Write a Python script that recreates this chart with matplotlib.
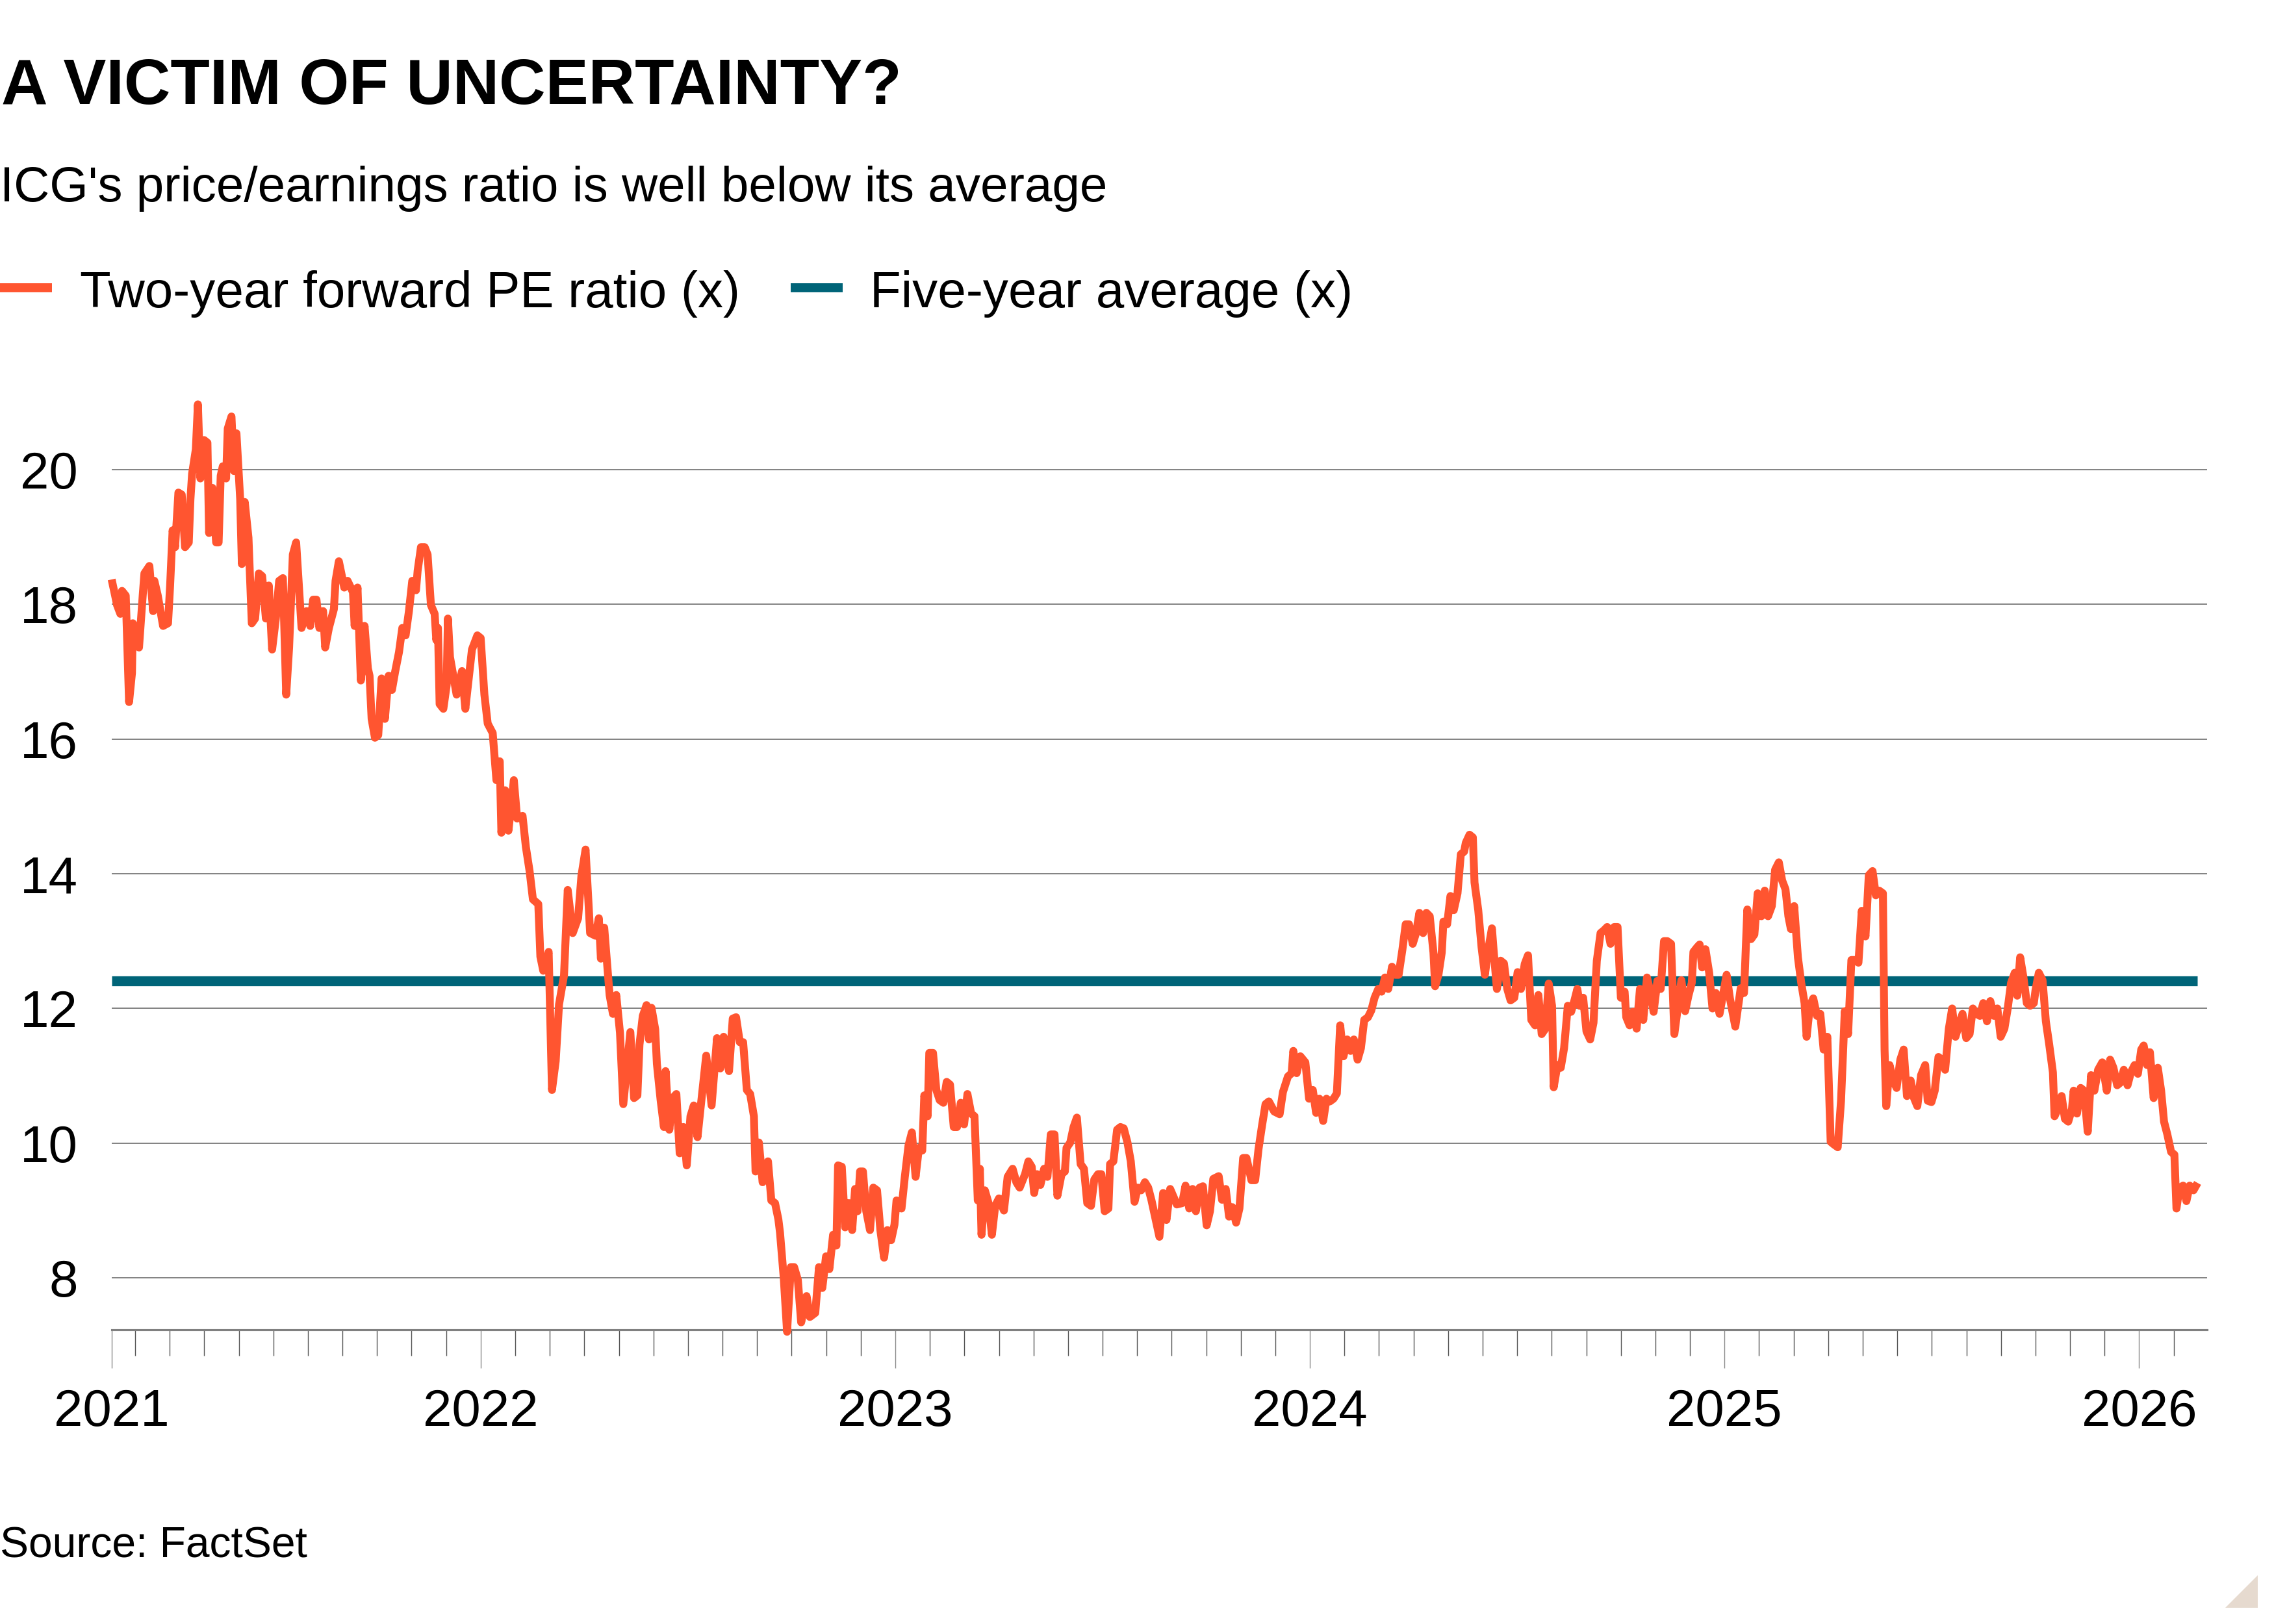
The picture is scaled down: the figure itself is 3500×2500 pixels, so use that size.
import matplotlib
matplotlib.use("Agg")
import matplotlib.pyplot as plt
from matplotlib.lines import Line2D
from matplotlib.patches import Polygon

plt.rcParams['font.family'] = ['Liberation Sans', 'DejaVu Sans']

# ---------------- data (decimal year, two-year forward PE) ----------------
years = [
    2021.110, 2021.118, 2021.123, 2021.131, 2021.135, 2021.144, 2021.152, 2021.159, 2021.161, 2021.168,
    2021.176, 2021.185, 2021.189, 2021.201, 2021.210, 2021.213, 2021.221, 2021.234, 2021.246, 2021.251,
    2021.257, 2021.263, 2021.271, 2021.279, 2021.287, 2021.296, 2021.300, 2021.304, 2021.313, 2021.318,
    2021.324, 2021.333, 2021.341, 2021.345, 2021.353, 2021.362, 2021.368, 2021.373, 2021.378, 2021.386,
    2021.390, 2021.399, 2021.405, 2021.411, 2021.420, 2021.424, 2021.431, 2021.440, 2021.448, 2021.456,
    2021.465, 2021.473, 2021.482, 2021.489, 2021.497, 2021.506, 2021.514, 2021.523, 2021.531, 2021.538,
    2021.547, 2021.555, 2021.568, 2021.580, 2021.589, 2021.596, 2021.604, 2021.611, 2021.620, 2021.625,
    2021.634, 2021.646, 2021.650, 2021.658, 2021.671, 2021.679, 2021.692, 2021.696, 2021.703, 2021.711,
    2021.720, 2021.728, 2021.732, 2021.737, 2021.745, 2021.753, 2021.761, 2021.769, 2021.778, 2021.786,
    2021.794, 2021.803, 2021.811, 2021.819, 2021.827, 2021.835, 2021.844, 2021.848, 2021.856, 2021.865,
    2021.872, 2021.880, 2021.889, 2021.893, 2021.897, 2021.901, 2021.910, 2021.918, 2021.921, 2021.926,
    2021.934, 2021.942, 2021.955, 2021.963, 2021.972, 2021.979, 2021.992,
    2022.000, 2022.009, 2022.017, 2022.029, 2022.038, 2022.046, 2022.050, 2022.059, 2022.067, 2022.080,
    2022.088, 2022.101, 2022.109, 2022.118, 2022.126, 2022.139, 2022.144, 2022.151, 2022.164, 2022.172,
    2022.181, 2022.189, 2022.201, 2022.210, 2022.222, 2022.235, 2022.243, 2022.253, 2022.264, 2022.277,
    2022.285, 2022.290, 2022.298, 2022.311, 2022.319, 2022.327, 2022.336, 2022.344,
    2022.361, 2022.370, 2022.378, 2022.383, 2022.391, 2022.400, 2022.406, 2022.412, 2022.421, 2022.425,
    2022.434, 2022.442, 2022.446, 2022.455, 2022.463, 2022.472, 2022.480, 2022.489, 2022.497, 2022.506,
    2022.514, 2022.523, 2022.531, 2022.544, 2022.557, 2022.570, 2022.578, 2022.586, 2022.599, 2022.608,
    2022.616, 2022.625, 2022.633, 2022.642, 2022.650, 2022.659, 2022.663, 2022.671, 2022.680, 2022.693,
    2022.701, 2022.710, 2022.718, 2022.722, 2022.731, 2022.739, 2022.748, 2022.756, 2022.765, 2022.773,
    2022.786, 2022.794, 2022.807, 2022.816, 2022.824, 2022.833, 2022.841, 2022.850, 2022.858, 2022.862,
    2022.871, 2022.879, 2022.888, 2022.896, 2022.903, 2022.909, 2022.915, 2022.922, 2022.930, 2022.939,
    2022.947, 2022.956, 2022.964, 2022.973, 2022.981, 2022.990, 2022.998,
    2023.003, 2023.015, 2023.023, 2023.032, 2023.040, 2023.049, 2023.057, 2023.065, 2023.070, 2023.078,
    2023.082, 2023.091, 2023.099, 2023.107, 2023.116, 2023.124, 2023.132, 2023.141, 2023.149, 2023.158,
    2023.166, 2023.174, 2023.183, 2023.191, 2023.199, 2023.204, 2023.208, 2023.216, 2023.225, 2023.233,
    2023.241, 2023.250, 2023.262, 2023.271, 2023.283, 2023.292, 2023.300, 2023.313, 2023.321, 2023.329,
    2023.335, 2023.342, 2023.350, 2023.359, 2023.367, 2023.375, 2023.384, 2023.391, 2023.401, 2023.409,
    2023.413, 2023.422, 2023.430, 2023.438, 2023.447, 2023.455, 2023.463, 2023.472, 2023.480, 2023.489,
    2023.497, 2023.505, 2023.514, 2023.518, 2023.526, 2023.535, 2023.543, 2023.551, 2023.560, 2023.568,
    2023.577, 2023.585, 2023.593, 2023.602, 2023.610, 2023.618,
    2023.637, 2023.646, 2023.654, 2023.663, 2023.679, 2023.692, 2023.700, 2023.709, 2023.717, 2023.725,
    2023.734, 2023.742, 2023.751, 2023.759, 2023.767, 2023.780, 2023.788, 2023.797, 2023.805, 2023.813,
    2023.822, 2023.830, 2023.839, 2023.847, 2023.859, 2023.868, 2023.876, 2023.885, 2023.893, 2023.901,
    2023.914, 2023.927, 2023.935, 2023.947, 2023.956, 2023.960, 2023.968, 2023.977, 2023.989, 2023.998,
    2024.007, 2024.015, 2024.023, 2024.032, 2024.040, 2024.048, 2024.057, 2024.065, 2024.073, 2024.081,
    2024.090, 2024.098, 2024.106, 2024.115, 2024.123, 2024.131, 2024.140, 2024.148, 2024.156, 2024.165,
    2024.173, 2024.181, 2024.189, 2024.198, 2024.206, 2024.214, 2024.223, 2024.231, 2024.239, 2024.248,
    2024.256, 2024.264, 2024.273, 2024.281, 2024.289, 2024.298, 2024.302, 2024.310, 2024.318, 2024.322,
    2024.331, 2024.339, 2024.347, 2024.356, 2024.364, 2024.372, 2024.376, 2024.385, 2024.393, 2024.397,
    2024.406, 2024.414, 2024.422, 2024.430, 2024.439, 2024.443, 2024.451, 2024.460, 2024.468, 2024.476,
    2024.484, 2024.493, 2024.501, 2024.509, 2024.518, 2024.526, 2024.534, 2024.543, 2024.551, 2024.559,
    2024.568, 2024.576, 2024.584, 2024.588, 2024.597, 2024.605, 2024.613, 2024.622, 2024.630, 2024.638,
    2024.645, 2024.651, 2024.659, 2024.667, 2024.676, 2024.684, 2024.692, 2024.701, 2024.709, 2024.717,
    2024.725, 2024.734, 2024.742, 2024.750, 2024.759, 2024.763, 2024.771, 2024.779, 2024.788, 2024.796,
    2024.804, 2024.813, 2024.821, 2024.829, 2024.838, 2024.846, 2024.854, 2024.862, 2024.871, 2024.879,
    2024.896, 2024.905, 2024.913, 2024.921, 2024.925, 2024.934, 2024.940, 2024.946, 2024.954, 2024.963,
    2024.971, 2024.979, 2024.988, 2024.996,
    2025.005, 2025.013, 2025.026, 2025.039, 2025.047, 2025.055, 2025.064, 2025.072, 2025.080, 2025.089,
    2025.097, 2025.105, 2025.114, 2025.122, 2025.131, 2025.139, 2025.147, 2025.154, 2025.160, 2025.168,
    2025.177, 2025.185, 2025.193, 2025.198, 2025.206, 2025.214, 2025.223, 2025.231, 2025.239, 2025.248,
    2025.256, 2025.264, 2025.273, 2025.281, 2025.290, 2025.298, 2025.306, 2025.315, 2025.323, 2025.331,
    2025.340, 2025.348, 2025.357, 2025.365, 2025.373, 2025.382, 2025.386, 2025.390, 2025.398, 2025.407,
    2025.415, 2025.424, 2025.432, 2025.440, 2025.449, 2025.457, 2025.465, 2025.474, 2025.484, 2025.490,
    2025.499, 2025.507, 2025.516, 2025.524, 2025.532, 2025.541, 2025.549, 2025.557, 2025.566, 2025.574,
    2025.583, 2025.591, 2025.599, 2025.608, 2025.616, 2025.624, 2025.633, 2025.641, 2025.650, 2025.658,
    2025.666, 2025.675, 2025.683, 2025.691, 2025.700, 2025.706, 2025.713, 2025.721, 2025.729, 2025.737,
    2025.746, 2025.750, 2025.758, 2025.767, 2025.775, 2025.783, 2025.792, 2025.796, 2025.804, 2025.813,
    2025.821, 2025.829, 2025.838, 2025.842, 2025.850, 2025.859, 2025.867, 2025.876, 2025.884, 2025.892,
    2025.901, 2025.911, 2025.922, 2025.930, 2025.938, 2025.947, 2025.955, 2025.963, 2025.972, 2025.980,
    2025.989, 2025.997,
    2026.005, 2026.011, 2026.019, 2026.026, 2026.035, 2026.045, 2026.053, 2026.060, 2026.068, 2026.077,
    2026.085, 2026.090, 2026.097, 2026.106, 2026.114, 2026.122, 2026.131, 2026.141,
]

pe_ratio = [
    18.37, 18.14, 17.99, 17.86, 18.20, 18.13, 16.55, 16.98, 17.72, 17.65,
    17.36, 18.14, 18.46, 18.57, 17.90, 18.35, 18.14, 17.68, 17.72, 18.28,
    19.10, 18.85, 19.66, 19.63, 18.85, 18.92, 19.56, 19.94, 20.30, 20.97,
    19.87, 20.44, 20.40, 19.06, 19.73, 18.92, 18.92, 19.91, 20.05, 19.87,
    20.61, 20.79, 19.98, 20.54, 19.56, 18.60, 19.52, 18.99, 17.72, 17.79,
    18.46, 18.42, 17.79, 18.28, 17.33, 17.79, 18.35, 18.39, 16.66, 17.36,
    18.74, 18.92, 17.65, 17.90, 17.68, 18.07, 18.07, 17.65, 17.90, 17.36,
    17.65, 17.93, 18.35, 18.64, 18.25, 18.35, 18.18, 17.68, 18.25, 16.87,
    17.68, 17.05, 16.94, 16.30, 16.02, 16.06, 16.90, 16.30, 16.94, 16.73,
    17.01, 17.29, 17.65, 17.54, 17.90, 18.35, 18.21, 18.50, 18.85, 18.85,
    18.74, 17.99, 17.86, 17.47, 17.65, 16.52, 16.45, 16.80, 17.79, 17.22,
    16.94, 16.66, 17.01, 16.45, 16.94, 17.33, 17.54,
    17.50, 16.66, 16.23, 16.09, 15.39, 15.67, 14.61, 15.24, 14.64, 15.39,
    14.82, 14.86, 14.40, 14.04, 13.62, 13.55, 12.77, 12.56, 12.84, 10.79,
    11.22, 12.06, 12.49, 13.76, 13.12, 13.34, 13.97, 14.36, 13.12, 13.08,
    13.34, 12.74, 13.20, 12.20, 11.92, 12.20, 11.64, 10.58,
    11.65, 10.67, 10.71, 11.46, 11.89, 12.05, 11.54, 12.01, 11.69, 11.18,
    10.64, 10.24, 11.07, 10.20, 10.67, 10.73, 9.85, 10.24, 9.67, 10.40,
    10.56, 10.09, 10.56, 11.30, 10.56, 11.56, 11.11, 11.58, 11.07, 11.85,
    11.87, 11.50, 11.50, 10.79, 10.73, 10.40, 9.58, 10.01, 9.42, 9.73,
    9.15, 9.11, 8.87, 8.67, 8.00, 7.20, 8.16, 8.16, 7.97, 7.34,
    7.73, 7.42, 7.48, 8.16, 7.85, 8.32, 8.13, 8.64, 8.48, 9.67,
    9.65, 8.75, 9.11, 8.71, 9.32, 8.99, 9.58, 9.58, 8.99, 8.71,
    9.34, 9.30, 8.71, 8.30, 8.71, 8.56, 8.79,
    9.15, 9.03, 9.50, 9.97, 10.16, 9.50, 9.93, 9.89, 10.71, 10.40,
    11.34, 11.34, 10.79, 10.64, 10.60, 10.91, 10.87, 10.24, 10.24, 10.60,
    10.28, 10.73, 10.44, 10.40, 9.15, 9.62, 8.64, 9.30, 9.11, 8.64,
    9.07, 9.18, 9.00, 9.50, 9.62, 9.42, 9.34, 9.54, 9.73, 9.65,
    9.26, 9.54, 9.38, 9.62, 9.50, 10.13, 10.13, 9.22, 9.54, 9.58,
    9.93, 10.01, 10.24, 10.38, 9.69, 9.62, 9.11, 9.07, 9.46, 9.54,
    9.54, 8.99, 9.03, 9.69, 9.73, 10.20, 10.24, 10.22, 10.01, 9.73,
    9.13, 9.34, 9.30, 9.42, 9.34, 9.15,
    8.61, 9.26, 8.86, 9.32, 9.09, 9.11, 9.37, 9.03, 9.32, 8.99,
    9.34, 9.36, 8.78, 8.99, 9.47, 9.51, 9.16, 9.32, 8.91, 9.05,
    8.82, 9.03, 9.78, 9.78, 9.45, 9.45, 9.91, 10.28, 10.58, 10.62,
    10.47, 10.43, 10.76, 10.99, 11.04, 11.37, 11.04, 11.29, 11.20, 10.66,
    10.79, 10.45, 10.66, 10.33, 10.66, 10.62, 10.66, 10.74, 11.75, 11.29,
    11.54, 11.37, 11.54, 11.24, 11.41, 11.83, 11.87, 11.97, 12.16, 12.29,
    12.25, 12.46, 12.29, 12.62, 12.50, 12.50, 12.87, 13.25, 13.25, 12.96,
    13.12, 13.42, 13.12, 13.42, 13.37, 12.83, 12.33, 12.50, 12.83, 13.29,
    13.25, 13.67, 13.46, 13.71, 14.29, 14.33, 14.46, 14.58, 14.54, 13.87,
    13.46, 12.91, 12.50, 12.87, 13.19, 12.87, 12.29, 12.71, 12.67, 12.29,
    12.12, 12.16, 12.54, 12.29, 12.66, 12.79, 11.83, 11.75, 12.20, 11.62,
    11.70, 12.37, 12.04, 10.83, 11.16, 11.12, 11.41, 12.04, 11.95, 12.12,
    12.29, 12.04, 12.16, 11.66, 11.54, 11.79, 12.71, 13.12, 13.16, 13.21,
    12.96, 13.21, 13.21, 12.16, 12.25, 11.87, 11.75, 11.95, 11.70, 12.29,
    11.83, 12.46, 12.25, 11.95, 12.41, 12.29, 13.00, 13.00, 12.96, 11.62,
    12.42, 11.96, 12.19, 12.38, 12.84, 12.91, 12.95, 12.61, 12.88, 12.53,
    12.00, 12.23, 11.92, 12.19,
    12.50, 12.15, 11.73, 12.30, 12.23, 13.47, 13.03, 13.10, 13.71, 13.37,
    13.75, 13.37, 13.52, 14.06, 14.17, 13.90, 13.77, 13.37, 13.18, 13.52,
    12.76, 12.38, 12.08, 11.58, 12.04, 12.15, 11.89, 11.92, 11.39, 11.58,
    10.02, 9.98, 9.94, 10.63, 11.96, 11.62, 12.72, 12.72, 12.68, 13.45,
    13.07, 13.98, 14.04, 13.68, 13.75, 13.71, 11.39, 10.55, 11.16, 10.93,
    10.82, 11.24, 11.39, 10.70, 10.93, 10.67, 10.55, 11.01, 11.16, 10.63,
    10.61, 10.78, 11.28, 11.24, 11.09, 11.70, 12.00, 11.58, 11.77, 11.92,
    11.56, 11.62, 12.00, 11.92, 11.89, 12.08, 11.81, 12.11, 11.89, 12.00,
    11.58, 11.70, 12.00, 12.38, 12.53, 12.19, 12.76, 12.46, 12.08, 12.04,
    12.08, 12.27, 12.53, 12.42, 11.81, 11.47, 11.05, 10.40, 10.51, 10.70,
    10.36, 10.32, 10.51, 10.78, 10.44, 10.82, 10.78, 10.17, 11.01, 10.78,
    11.09, 11.20, 10.78, 11.24, 11.12, 10.86, 10.90, 11.09, 10.86, 11.05,
    11.16, 11.03,
    11.39, 11.45, 11.16, 11.35, 10.67, 11.12, 10.78, 10.32, 10.13, 9.87,
    9.83, 9.03, 9.33, 9.37, 9.14, 9.37, 9.30, 9.41,
]

five_year_average = 12.41

y_ticks = [8, 10, 12, 14, 16, 18, 20]
y_tick_labels = ['8', '10', '12', '14', '16', '18', '20']
year_tick_pos = [2021.110, 2022, 2023, 2024, 2025, 2026]
year_tick_labels = ['2021', '2022', '2023', '2024', '2025', '2026']
month_ticks = [y + m / 12 for y in range(2021, 2027) for m in range(1, 12)
               if 2021.13 < y + m / 12 < 2026.16]

title = 'A VICTIM OF UNCERTAINTY?'
subtitle = "ICG's price/earnings ratio is well below its average"
legend_labels = ['Two-year forward PE ratio (x)', 'Five-year average (x)']
source = 'Source: FactSet'

ORANGE = '#FF5530'
TEAL = '#006478'
GRID = '#808080'

# ---------------- figure ----------------
fig = plt.figure(figsize=(14, 10), dpi=250)
fig.patch.set_facecolor('white')
ax = fig.add_axes([0.0491, 0.1812, 0.9215, 0.5752])

ax.hlines(five_year_average, years[0], years[-1], color=TEAL, lw=4.4,
          zorder=3)
ax.plot(years, pe_ratio, color=ORANGE, lw=3.5, zorder=4,
        solid_joinstyle='round', solid_capstyle='butt', clip_on=False)

ax.set_xlim(2021.110, 2026.164)
ax.set_ylim(7.23, 21.1)

ax.set_yticks(y_ticks)
ax.set_yticklabels(y_tick_labels)
ax.yaxis.grid(True, color=GRID, lw=0.55)
ax.set_axisbelow(True)
ax.tick_params(axis='y', length=0, pad=15, labelsize=23, labelcolor='black')

ax.set_xticks(year_tick_pos)
ax.set_xticklabels(year_tick_labels)
ax.set_xticks(month_ticks, minor=True)
ax.tick_params(axis='x', which='major', length=17, width=0.4, color='#8a8a8a',
               pad=9, labelsize=23, labelcolor='black')
ax.tick_params(axis='x', which='minor', length=11.5, width=0.4, color='#555555')

for s in ['top', 'right', 'left']:
    ax.spines[s].set_visible(False)
ax.spines['bottom'].set_color(GRID)
ax.spines['bottom'].set_linewidth(0.9)

# ---------------- titles / legend / source ----------------
fig.text(0.0005, 0.936, title, fontsize=28.5, fontweight='bold',
         va='baseline', ha='left', color='black')
fig.text(0.0, 0.876, subtitle, fontsize=22, va='baseline', ha='left',
         color='black')

fig.add_artist(Line2D([0.0, 0.0229], [0.8228, 0.8228], color=ORANGE, lw=4,
                      transform=fig.transFigure, solid_capstyle='butt'))
fig.text(0.0351, 0.8108, legend_labels[0], fontsize=22.5, va='baseline',
         ha='left', color='black')
fig.add_artist(Line2D([0.3477, 0.3706], [0.8228, 0.8228], color=TEAL, lw=4,
                      transform=fig.transFigure, solid_capstyle='butt'))
fig.text(0.3826, 0.8108, legend_labels[1], fontsize=22.5, va='baseline',
         ha='left', color='black')

fig.text(0.0, 0.041, source, fontsize=19, va='baseline', ha='left',
         color='black')

fig.add_artist(Polygon([(0.9786, 0.010), (0.9929, 0.010), (0.9929, 0.030)],
                       closed=True, transform=fig.transFigure,
                       facecolor='#E6DACF', edgecolor='none'))

fig.savefig('out.png', dpi=250, facecolor='white')
